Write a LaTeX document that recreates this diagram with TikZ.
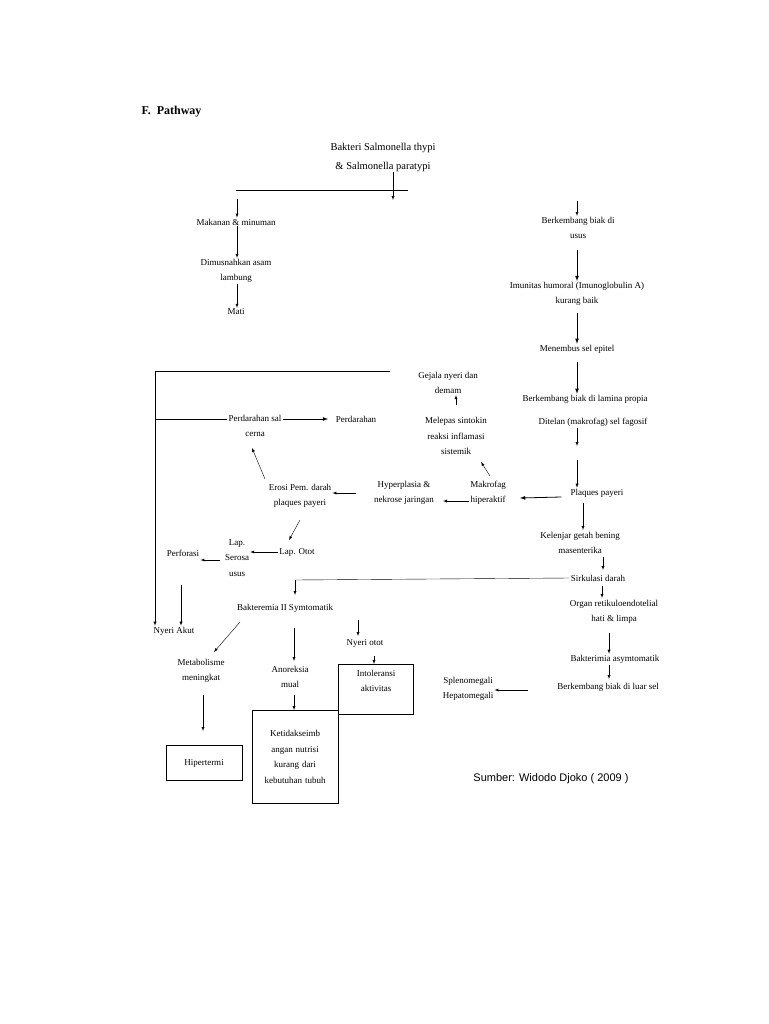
\documentclass[tikz,border=0pt]{standalone}
\usepackage{fontspec}
\setmainfont{Liberation Serif}
\newfontfamily\sumfont{Liberation Sans}
\begin{document}
\begin{tikzpicture}[x=1pt,y=-1pt,
 t/.style={font=\fontsize{9}{15.5}\selectfont,align=center,inner sep=1pt},
 a/.style={-latex,thin},
 l/.style={thin},
 bx/.style={draw,thick,minimum width=#1}]
\useasboundingbox (0,0) rectangle (768,1024);
\node[font=\bfseries\fontsize{12}{14}\selectfont,anchor=west] (ttl) at (138,112) {F.\ \ Pathway};
\node[t,font=\fontsize{10.5}{19}\selectfont] (bak) at (383,157) {Bakteri Salmonella thypi\\\& Salmonella paratypi};
\coordinate (hl) at (236,190); \coordinate (hr) at (408,190); \coordinate (hm) at (393,190);
\draw[l] (hl) -- (hr);
\draw[l] (bak.south -| hm) -- (hm);
\coordinate (hd) at (393,200);
\draw[a] (hm) -- (hd);
% left branch
\node[t] (mak) at (236,222) {Makanan \& minuman};
\node[t] (dim) at (236,271) {Dimusnahkan asam\\lambung};
\node[t] (mati) at (236,312) {Mati};
\coordinate (l0) at (237,199);
\draw[a] (l0) -- (mak.north -| l0);
\draw[a] (mak.south -| l0) -- (dim.north -| l0);
\draw[a] (dim.south -| l0) -- (mati.north -| l0);
% right column
\node[t] (bus) at (578,228) {Berkembang biak di\\usus};
\node[t] (imu) at (577,294) {Imunitas humoral (Imunoglobulin A)\\kurang baik};
\node[t] (men) at (577,349) {Menembus sel epitel};
\node[t] (lam) at (585,399) {Berkembang biak di lamina propia};
\node[t] (dit) at (593,422) {Ditelan (makrofag) sel fagosif};
\node[t] (plq) at (597,493) {Plaques payeri};
\node[t] (kel) at (580,543) {Kelenjar getah bening\\masenterika};
\node[t] (sir) at (598,578) {Sirkulasi darah};
\node[t] (org) at (614,612) {Organ retikuloendotelial\\hati \& limpa};
\node[t] (bas) at (615,659) {Bakterimia asymtomatik};
\node[t] (blu) at (608,687) {Berkembang biak di luar sel};
\node[t] (spl) at (468,689) {Splenomegali\\Hepatomegali};
\coordinate (r0) at (577,201);
\draw[a] (r0) -- (bus.north -| r0);
\draw[a,thick] (577,250) -- (imu.north -| r0);
\draw[a,thick] (577,313) -- (men.north -| r0);
\draw[a,thick] (577,362) -- (lam.north -| r0);
\draw[a] (577,428) -- (577,446);
\draw[a] (577,460) -- (plq.north -| r0);
\draw[a,thick] (plq.west) ++(-8,4) coordinate (pw) -- (520,498) coordinate (mw);
\draw[a] (583,503) -- (583,530);
\draw[a] (603,557) -- (603,570);
\draw[l] (sir.west) -- (295,580) coordinate (sc);
\draw[a] (sc) -- (295,595);
\draw[a] (602,586) -- (602,598);
\draw[a] (609,633) -- (bas.north -| 609,0);
\draw[a] (609,665) -- (609,679);
\draw[a] (528,690) -- (spl.east |- 0,690);
% middle
\node[t] (gej) at (448,383) {Gejala nyeri dan\\demam};
\node[t] (mel) at (456,436) {Melepas sintokin\\reaksi inflamasi\\sistemik};
\node[t] (mkr) at (488,493) {Makrofag\\hiperaktif};
\node[t] (hyp) at (404,493) {Hyperplasia \&\\nekrose jaringan};
\node[t] (ero) at (300,496) {Erosi Pem. darah\\plaques payeri};
\node[t] (psc) at (255,426) {Perdarahan sal\\cerna};
\node[t] (per) at (356,419) {Perdarahan};
\node[t] (otot) at (297,552) {Lap. Otot};
\node[t] (ser) at (237,558) {Lap.\\Serosa\\usus};
\node[t] (perf) at (183,553) {Perforasi};
\draw[a] (456,405) -- (gej.south -| 456,0);
\draw[a] (490,476) -- (481,462);
\draw[a] (mkr.west |- 0,501) -- (443,501);
\draw[a] (356,493) -- (ero.east |- 0,493);
\draw[a] (265,479) -- (252,448);
\draw[a,thick] (psc.east |- 0,419) -- (328,419);
\draw[a] (300,520) -- (289,540);
\draw[a] (otot.west) -- (ser.east |- otot.west);
\draw[a] (220,560) -- (perf.east |- 0,560);
% left lines
\node[t] (nak) at (174,631) {Nyeri Akut};
\coordinate (c1) at (155,371); \coordinate (c2) at (390,371); \coordinate (c3) at (155,419);
\draw[l] (c2) -- (c1);
\draw[a] (c1) -- (nak.north -| c1);
\draw[l] (c3) -- (psc.west |- c3);
\draw[a] (181,585) -- (nak.north -| 181,0);
% bottom
\node[t] (btm) at (285,608) {Bakteremia II Symtomatik};
\node[t] (met) at (201,671) {Metabolisme\\meningkat};
\node[t,bx=76pt,minimum height=35pt] (hip) at (204,763) {Hipertermi};
\node[t] (ano) at (290,677) {Anoreksia\\mual};
\node[t,bx=86pt,minimum height=93pt,text width=62pt] (ket) at (295,757) {Ketidakseimb angan nutrisi kurang dari kebutuhan tubuh};
\node[t] (nyo) at (365,643) {Nyeri otot};
\node[t,bx=75pt,minimum height=50pt,anchor=north] (int) at (376,664) {};
\node[t,anchor=north] (intt) at (376,669) {Intoleransi\\aktivitas};
\draw[a] (240,622) -- (214,652);
\draw[a] (203,695) -- (203,731);
\draw[a] (294,628) -- (294,661);
\draw[a] (294,695) -- (ket.north -| 294,0);
\draw[a] (358,620) -- (358,636);
\draw[a] (374,656) -- (int.north -| 374,0);
\node[font=\sumfont\fontsize{11}{13}\selectfont] (sum) at (551,779) {Sumber: Widodo Djoko ( 2009 )};
\end{tikzpicture}
\end{document}
